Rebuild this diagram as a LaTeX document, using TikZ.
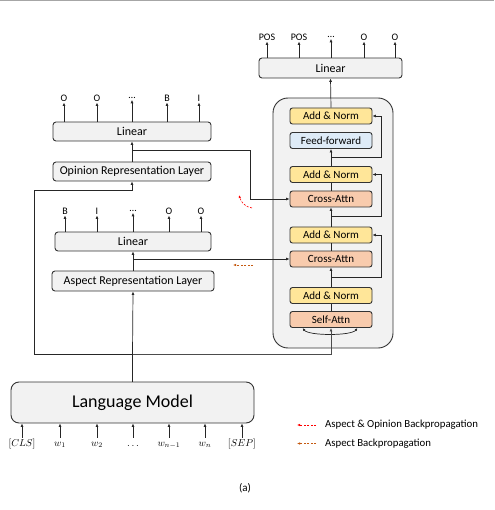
\documentclass[tikz,border=0pt]{standalone}
\usepackage{fontspec}
\setmainfont{Carlito}
\usetikzlibrary{arrows.meta,calc}
\definecolor{normyel}{HTML}{FFE699}
\definecolor{attnor}{HTML}{F8CBAD}
\definecolor{ffblue}{HTML}{DEEBF7}
\definecolor{bpbrown}{RGB}{197,90,17}
\begin{document}
\begin{tikzpicture}[x=1pt, y=-1pt,
  lin/.style={rectangle, rounded corners=3pt, draw=black!80, line width=0.9pt, fill=gray!10, inner sep=0pt, font=\fontsize{12}{14}\selectfont},
  sub/.style={rectangle, rounded corners=2.5pt, draw=black!80, line width=0.9pt, inner sep=0pt, minimum width=82pt, minimum height=16pt, font=\fontsize{11}{13}\selectfont},
  lbl/.style={inner sep=1pt, font=\fontsize{10}{12}\selectfont},
  inlbl/.style={inner sep=1pt, text height=7pt, text depth=3pt, font=\fontsize{10}{12}\selectfont},
  arr/.style={-{Latex[length=3.5pt,width=3pt]}, line width=0.7pt, black!85},
  ln/.style={line width=0.7pt, black!85},
  bpred/.style={-{Latex[length=3pt,width=2.5pt]}, dashed, dash pattern=on 2pt off 1.5pt, line width=0.6pt, red},
  bpbrn/.style={-{Latex[length=3pt,width=2.5pt]}, dashed, dash pattern=on 2pt off 1.5pt, line width=0.6pt, bpbrown},
]
\useasboundingbox (0,0) rectangle (494,510);
\draw[gray!70, line width=1.5pt] (0,0.7) -- (494,0.7);

% transformer side
\node[lin, minimum width=143pt, minimum height=20pt] (linT) at (330.5,68) {Linear};
\node[rectangle, rounded corners=15pt, draw=black!80, line width=0.9pt, fill=gray!10, minimum width=120pt, minimum height=250pt] (enc) at (333,223) {};
\node[sub, fill=normyel] (an1) at (331,116) {Add \& Norm};
\node[sub, fill=ffblue] (ff) at (331,140.5) {Feed-forward};
\node[sub, fill=normyel] (an2) at (331,174.5) {Add \& Norm};
\node[sub, fill=attnor] (ca1) at (331,199) {Cross-Attn};
\node[sub, fill=normyel] (an3) at (331,235) {Add \& Norm};
\node[sub, fill=attnor] (ca2) at (331,259) {Cross-Attn};
\node[sub, fill=normyel] (an4) at (331,295.5) {Add \& Norm};
\node[sub, fill=attnor] (sa) at (331,319.5) {Self-Attn};

\foreach \x/\t [count=\i] in {267/POS,299/POS,331/\ldots,364/O,395/O}{
  \node[lbl] (tp\i) at (\x,37) {\t};
  \draw[arr] (tp\i.south |- linT.north) -- (tp\i.south);
}

\draw[arr] (an1.north) -- (linT.south);
\draw[arr] (an2.north) -- (ff.south);
\draw[ln] (ca1.north) -- (an2.south);
\draw[arr] (an3.north) -- (ca1.south);
\draw[ln] (ca2.north) -- (an3.south);
\draw[arr] (an4.north) -- (ca2.south);
\draw[ln] (sa.north) -- (an4.south);

\coordinate (res1) at (331,157);
\coordinate (res2) at (331,216);
\coordinate (res3) at (331,277);
\draw[arr] (res1) -- ++(50,0) |- (an1.east);
\draw[arr] (res2) -- ++(50,0) |- (an2.east);
\draw[arr] (res3) -- ++(50,0) |- (an3.east);
\draw[{Latex[length=3pt,width=2.5pt]}-{Latex[length=3pt,width=2.5pt]}, line width=0.7pt, black!85]
  ($(sa.south west)+(13,0)$) .. controls +(6,8) and +(-6,8) .. ($(sa.south east)+(-15,0)$);

% aspect / opinion side
\node[lin, minimum width=158pt, minimum height=19pt] (linO) at (132,131.5) {Linear};
\node[lin, minimum width=158pt, minimum height=19pt] (orl) at (132,171.5) {Opinion Representation Layer};
\node[lin, minimum width=156pt, minimum height=19pt] (linA) at (133,241.5) {Linear};
\node[lin, minimum width=162pt, minimum height=20pt] (arl) at (133,281) {Aspect Representation Layer};
\node[lin, rounded corners=8pt, minimum width=243pt, minimum height=41pt, font=\fontsize{18}{21}\selectfont] (lm) at (132.5,402.5) {Language Model};

\foreach \x/\t [count=\i] in {64/O,97/O,132/\ldots,167/B,199/I}{
  \node[lbl] (op\i) at (\x,98) {\t};
  \draw[arr] (op\i.south |- linO.north) -- (op\i.south);
}
\foreach \x/\t [count=\i] in {65/B,97/I,133/\ldots,169/O,201/O}{
  \node[lbl] (ap\i) at (\x,211) {\t};
  \draw[arr] (ap\i.south |- linA.north) -- (ap\i.south);
}
\foreach \x/\t [count=\i] in {22/{$[CLS]$},60/{$w_1$},97/{$w_2$},133/{$\dots$},169/{$w_{n-1}$},205/{$w_n$},242/{$[SEP]$}}{
  \node[inlbl] (in\i) at (\x,444) {\t};
  \draw[arr] (in\i.north) -- (in\i.north |- lm.south);
}

\draw[arr] (orl.north) -- (linO.south);
\coordinate (ob) at (132,150);
\draw[arr] (ob) -- ++(118,0) |- (ca1.west);
\draw[arr] (arl.north) -- (linA.south);
\coordinate (ab) at (133,259);
\draw[arr] (ab) -- (ca2.west);

\coordinate (jn) at (132.5,354);
\draw[ln] (lm.north) -- (jn);
\draw[arr] (jn) -- (arl.south);
\draw[arr, black!70] (jn) -| (sa.south);
\draw[arr] (jn) -- ++(-98.5,0) -- ++(0,-164) -| (orl.south);

% backprop marks
\coordinate (ra) at (252,208);
\coordinate (rb) at (239,195);
\draw[bpred] (ra) .. controls (245,207) and (241,202) .. (rb);
\coordinate (ba) at (253,265);
\coordinate (bb) at (233,265);
\draw[bpbrn] (ba) -- (bb);

% legend
\node[lbl, anchor=west, font=\fontsize{10.8}{13}\selectfont] (lg1) at (324,425) {Aspect \& Opinion Backpropagation};
\node[lbl, anchor=west, font=\fontsize{10.8}{13}\selectfont] (lg2) at (324,443.5) {Aspect Backpropagation};
\coordinate (lg1a) at (316,425);
\coordinate (lg2a) at (316,443.5);
\draw[bpred] (lg1a) -- ++(-19,0);
\draw[bpbrn] (lg2a) -- ++(-19,0);

\node[lbl, font=\fontsize{11}{13}\selectfont] (cap) at (245,488) {(a)};
\end{tikzpicture}
\end{document}
